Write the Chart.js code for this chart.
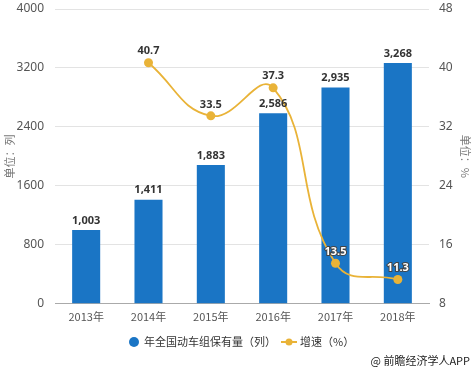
<!DOCTYPE html>
<html>
<head>
<meta charset="utf-8">
<script src="https://cdn.jsdelivr.net/npm/chart.js@4/dist/chart.umd.min.js"></script>
<style>
  html, body { margin: 0; padding: 0; background: #fff; }
  #wrap { position: relative; width: 474px; height: 369px; }
</style>
</head>
<body>
<div id="wrap"><canvas id="chart" width="474" height="369"></canvas></div>
<script>
// 数据
const years = ['2013年', '2014年', '2015年', '2016年', '2017年', '2018年'];
const stock = [1003, 1411, 1883, 2586, 2935, 3268];
const growth = [null, 40.7, 33.5, 37.3, 13.5, 11.3];
const leftTicks = [0, 800, 1600, 2400, 3200, 4000];
const rightTicks = [8, 16, 24, 32, 40, 48];

const BLUE = '#1a75c5';
const GOLD = '#e9b338';
const FONT = '"Noto Sans CJK SC", "Noto Sans", sans-serif';

// 数值标签
const labelPlugin = {
  id: 'labels',
  afterDatasetsDraw(chart) {
    const ctx = chart.ctx;
    ctx.save();
    ctx.textAlign = 'center';
    ctx.textBaseline = 'bottom';
    ctx.font = 'bold 11px "Noto Sans", sans-serif';
    chart.getDatasetMeta(0).data.forEach((bar, i) => {
      ctx.fillStyle = '#333';
      ctx.fillText(stock[i].toLocaleString('en-US'), bar.x, bar.y - 4);
    });
    chart.getDatasetMeta(1).data.forEach((pt, i) => {
      if (growth[i] == null) return;
      const txt = growth[i].toFixed(1);
      if (i >= 4) {
        // 落在柱子上的标签：白字深色描边
        ctx.lineWidth = 2;
        ctx.strokeStyle = '#444';
        ctx.strokeText(txt, pt.x, pt.y - 6);
        ctx.fillStyle = '#fff';
      } else {
        ctx.fillStyle = '#333';
      }
      ctx.fillText(txt, pt.x, pt.y - 6);
    });
    ctx.restore();
  }
};

// 图例与来源
const legendPlugin = {
  id: 'legendBox',
  afterDraw(chart) {
    const ctx = chart.ctx;
    ctx.save();
    const y = 342;
    ctx.fillStyle = BLUE;
    ctx.beginPath();
    ctx.arc(134, y, 5, 0, Math.PI * 2);
    ctx.fill();
    ctx.font = '11px ' + FONT;
    ctx.textBaseline = 'middle';
    ctx.fillStyle = '#333';
    ctx.fillText('年全国动车组保有量（列）', 144, y);
    ctx.strokeStyle = GOLD;
    ctx.lineWidth = 2;
    ctx.beginPath();
    ctx.moveTo(281, y);
    ctx.lineTo(297, y);
    ctx.stroke();
    ctx.fillStyle = GOLD;
    ctx.beginPath();
    ctx.arc(289, y, 3.5, 0, Math.PI * 2);
    ctx.fill();
    ctx.fillStyle = '#333';
    ctx.fillText('增速（%）', 300, y);
    ctx.textAlign = 'right';
    ctx.font = '11px ' + FONT;
    ctx.fillStyle = '#222';
    ctx.fillText('@ 前瞻经济学人APP', 470, 361);
    ctx.restore();
  }
};

// 固定纵轴宽度，去掉刻度间距带来的上下留白
function fixAxis(width) {
  return axis => {
    axis.width = width;
    axis.paddingTop = 7;
    axis.paddingBottom = 7;
  };
}

new Chart(document.getElementById('chart'), {
  data: {
    labels: years,
    datasets: [
      {
        type: 'bar',
        label: '年全国动车组保有量（列）',
        data: stock,
        backgroundColor: BLUE,
        yAxisID: 'y',
        barPercentage: 0.9,
        categoryPercentage: 0.5,
        order: 2
      },
      {
        type: 'line',
        label: '增速（%）',
        data: growth,
        borderColor: GOLD,
        backgroundColor: GOLD,
        borderWidth: 1.8,
        pointRadius: 4.5,
        pointBackgroundColor: GOLD,
        pointBorderWidth: 0,
        tension: 0.45,
        yAxisID: 'y1',
        order: 1
      }
    ]
  },
  options: {
    responsive: false,
    animation: false,
    layout: { padding: { left: 0, right: 0, top: 9, bottom: 44 } },
    plugins: {
      legend: { display: false },
      tooltip: { enabled: false }
    },
    scales: {
      x: {
        grid: { display: false, drawTicks: true, tickLength: 4 },
        border: { color: '#aaa' },
        ticks: { color: '#555', font: { family: FONT, size: 11 }, padding: 2, maxRotation: 0, autoSkip: false }
      },
      y: {
        position: 'left',
        min: 0, max: 4000,
        afterBuildTicks(axis) { axis.ticks = leftTicks.map(v => ({ value: v })); },
        afterFit: fixAxis(55),
        grid: { color: '#e3e3e3', drawTicks: false },
        border: { display: false },
        ticks: { color: '#555', font: { family: '"Noto Sans", sans-serif', size: 12 }, padding: 11, callback: v => String(v) },
        title: { display: true, text: '单位：列', color: '#777', font: { family: FONT, size: 11 }, padding: { top: 3, bottom: 0 } }
      },
      y1: {
        position: 'right',
        min: 8, max: 48,
        afterBuildTicks(axis) { axis.ticks = rightTicks.map(v => ({ value: v })); },
        afterFit: fixAxis(45),
        grid: { display: false, drawTicks: false },
        border: { display: false },
        ticks: { color: '#555', font: { family: '"Noto Sans", sans-serif', size: 12 }, padding: 10, callback: v => String(v) },
        title: { display: true, text: '单位：%', color: '#777', font: { family: FONT, size: 11 }, padding: { top: 2, bottom: 3 } }
      }
    }
  },
  plugins: [labelPlugin, legendPlugin]
});
</script>
</body>
</html>
